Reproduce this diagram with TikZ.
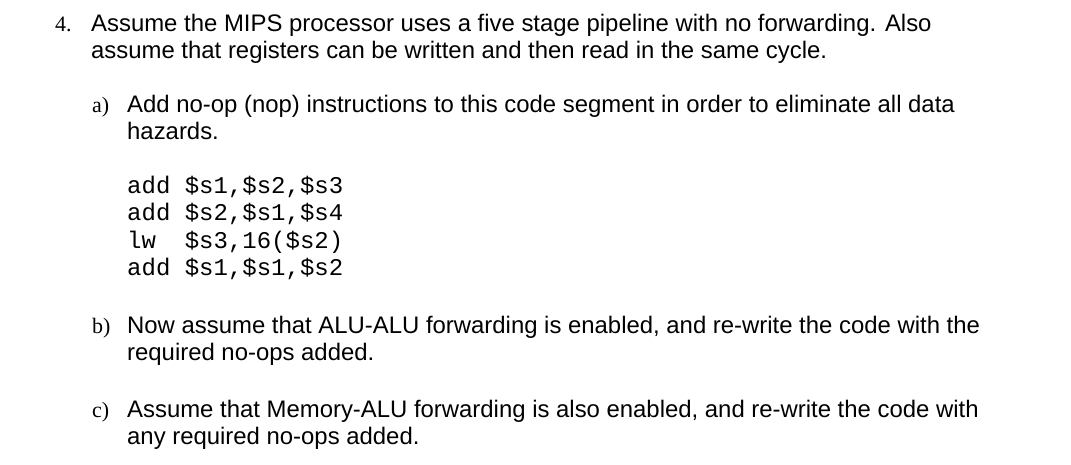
\documentclass[tikz,border=0pt]{standalone}
\usepackage{fontspec}
\setmainfont{Liberation Sans}
\newfontfamily\ser{Liberation Serif}
\newfontfamily\mono{Liberation Mono}
\begin{document}
\begin{tikzpicture}[x=1pt,y=-1pt,
  txt/.style={anchor=base west,inner sep=0pt,font=\fontsize{23.9}{28}\selectfont},
  lab/.style={anchor=base west,inner sep=0pt,font=\ser\fontsize{22}{26}\selectfont},
  code/.style={anchor=base west,inner sep=0pt,font=\mono\fontsize{24}{27}\selectfont}]
\useasboundingbox (0,0) rectangle (1071,465);
\node[lab] (n4) at (55,32) {4.};
\node[txt] (l1) at (91,32) {Assume the MIPS processor uses a five stage pipeline with no forwarding. Also};
\node[txt] (l2) at (91,59) {assume that registers can be written and then read in the same cycle.};
\node[lab] (na) at (92,113) {a)};
\node[txt] (a1) at (127,113) {Add no-op (nop) instructions to this code segment in order to eliminate all data};
\node[txt] (a2) at (127,140) {hazards.};
\node[code] (c1) at (127,194) {add \$s1,\$s2,\$s3};
\node[code] (c2) at (127,221) {add \$s2,\$s1,\$s4};
\node[code] (c3) at (127,248) {lw\ \ \$s3,16(\$s2)};
\node[code] (c4) at (127,276) {add \$s1,\$s1,\$s2};
\node[lab] (nb) at (92,333) {b)};
\node[txt] (b1) at (127,333) {Now assume that ALU-ALU forwarding is enabled, and re-write the code with the};
\node[txt] (b2) at (127,360) {required no-ops added.};
\node[lab] (nc) at (92,417) {c)};
\node[txt] (cc1) at (127,417) {Assume that Memory-ALU forwarding is also enabled, and re-write the code with};
\node[txt] (cc2) at (127,444) {any required no-ops added.};
\end{tikzpicture}
\end{document}
